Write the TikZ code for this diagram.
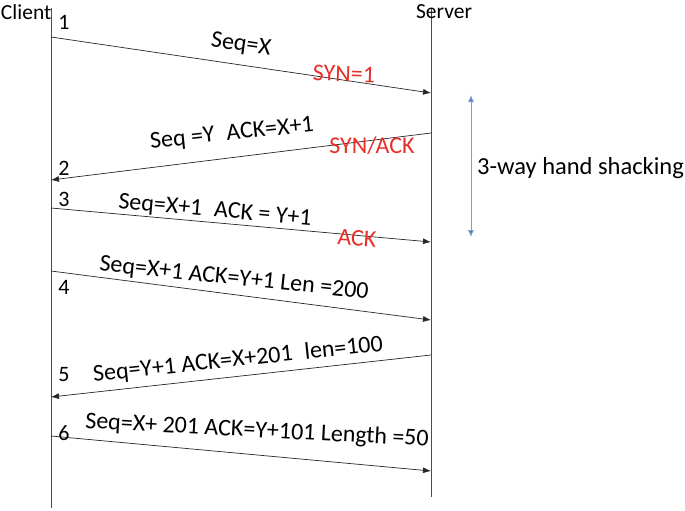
\documentclass[tikz,border=0pt]{standalone}
\usepackage{fontspec}
\setmainfont{Carlito}
\usetikzlibrary{arrows.meta}
\definecolor{synred}{HTML}{E8302A}
\definecolor{hsblue}{HTML}{4A72C0}
\begin{document}
\begin{tikzpicture}[x=1pt,y=-1pt,
  lifeline/.style={draw=black!70,line width=0.8pt},
  msg/.style={draw=black!85,line width=0.7pt,-{Latex[length=8pt,width=6pt]}},
  lbl/.style={font=\fontsize{24}{28}\selectfont,inner sep=0pt},
  red lbl/.style={lbl,text=synred},
  hdr/.style={font=\fontsize{21.5}{26}\selectfont,inner sep=0pt},
  num/.style={font=\fontsize{22}{26}\selectfont,inner sep=0pt}]
\useasboundingbox (0,0) rectangle (685,511);
% lifelines
\coordinate (ctop) at (51,8);
\coordinate (cbot) at (51,508);
\coordinate (stop) at (431,8);
\coordinate (sbot) at (431,497);
\draw[lifeline] (ctop) -- (cbot);
\draw[lifeline] (stop) -- (sbot);
\node[hdr,anchor=west] (client) at (0.8,12) {Client};
\node[hdr] (server) at (444,12) {Server};
% endpoints
\coordinate (c1) at (51,37);  \coordinate (s1) at (431,93);
\coordinate (s2) at (431,133); \coordinate (c2) at (51,180);
\coordinate (c3) at (51,208); \coordinate (s3) at (431,242);
\coordinate (c4) at (51,271); \coordinate (s4) at (431,320);
\coordinate (s5) at (431,355); \coordinate (c5) at (51,397);
\coordinate (c6) at (51,436); \coordinate (s6) at (431,471);
\draw[msg] (c1) -- (s1);
\draw[msg] (s2) -- (c2);
\draw[msg] (c3) -- (s3);
\draw[msg] (c4) -- (s4);
\draw[msg] (s5) -- (c5);
\draw[msg] (c6) -- (s6);
% numbers
\node[num] (n1) at (64,22) {1};
\node[num] (n2) at (64,168) {2};
\node[num] (n3) at (64,199) {3};
\node[num] (n4) at (64,287) {4};
\node[num] (n5) at (64,375) {5};
\node[num] (n6) at (64,433) {6};
% labels
\node[lbl,rotate=-8] (l1) at (241,45) {Seq=X};
\node[red lbl,rotate=-2] (r1) at (344,74) {SYN=1};
\node[lbl,rotate=6] (l2) at (232,134) {Seq =Y\enspace ACK=X+1};
\node[red lbl] (r2) at (372,146) {SYN/ACK};
\node[lbl,rotate=-5] (l3) at (215,211) {Seq=X+1\enspace ACK = Y+1};
\node[red lbl,rotate=-4] (r3) at (357,238) {ACK};
\node[lbl,rotate=-6] (l4) at (234,279) {Seq=X+1 ACK=Y+1 Len =200};
\node[lbl,rotate=6] (l5) at (238,360) {Seq=Y+1 ACK=X+201\enspace len=100};
\node[lbl,rotate=-3] (l6) at (257,431) {Seq=X+ 201 ACK=Y+101 Length =50};
% handshake marker
\coordinate (h1) at (471,95);
\coordinate (h2) at (471,237);
\draw[draw=hsblue!70,line width=0.9pt,{Latex[length=7pt,width=6pt,fill=hsblue]}-{Latex[length=7pt,width=6pt,fill=hsblue]}] (h1) -- (h2);
\node[font=\fontsize{24.5}{28}\selectfont,inner sep=0pt,anchor=west] (hs) at (477,168) {3-way hand shacking};
\end{tikzpicture}
\end{document}
